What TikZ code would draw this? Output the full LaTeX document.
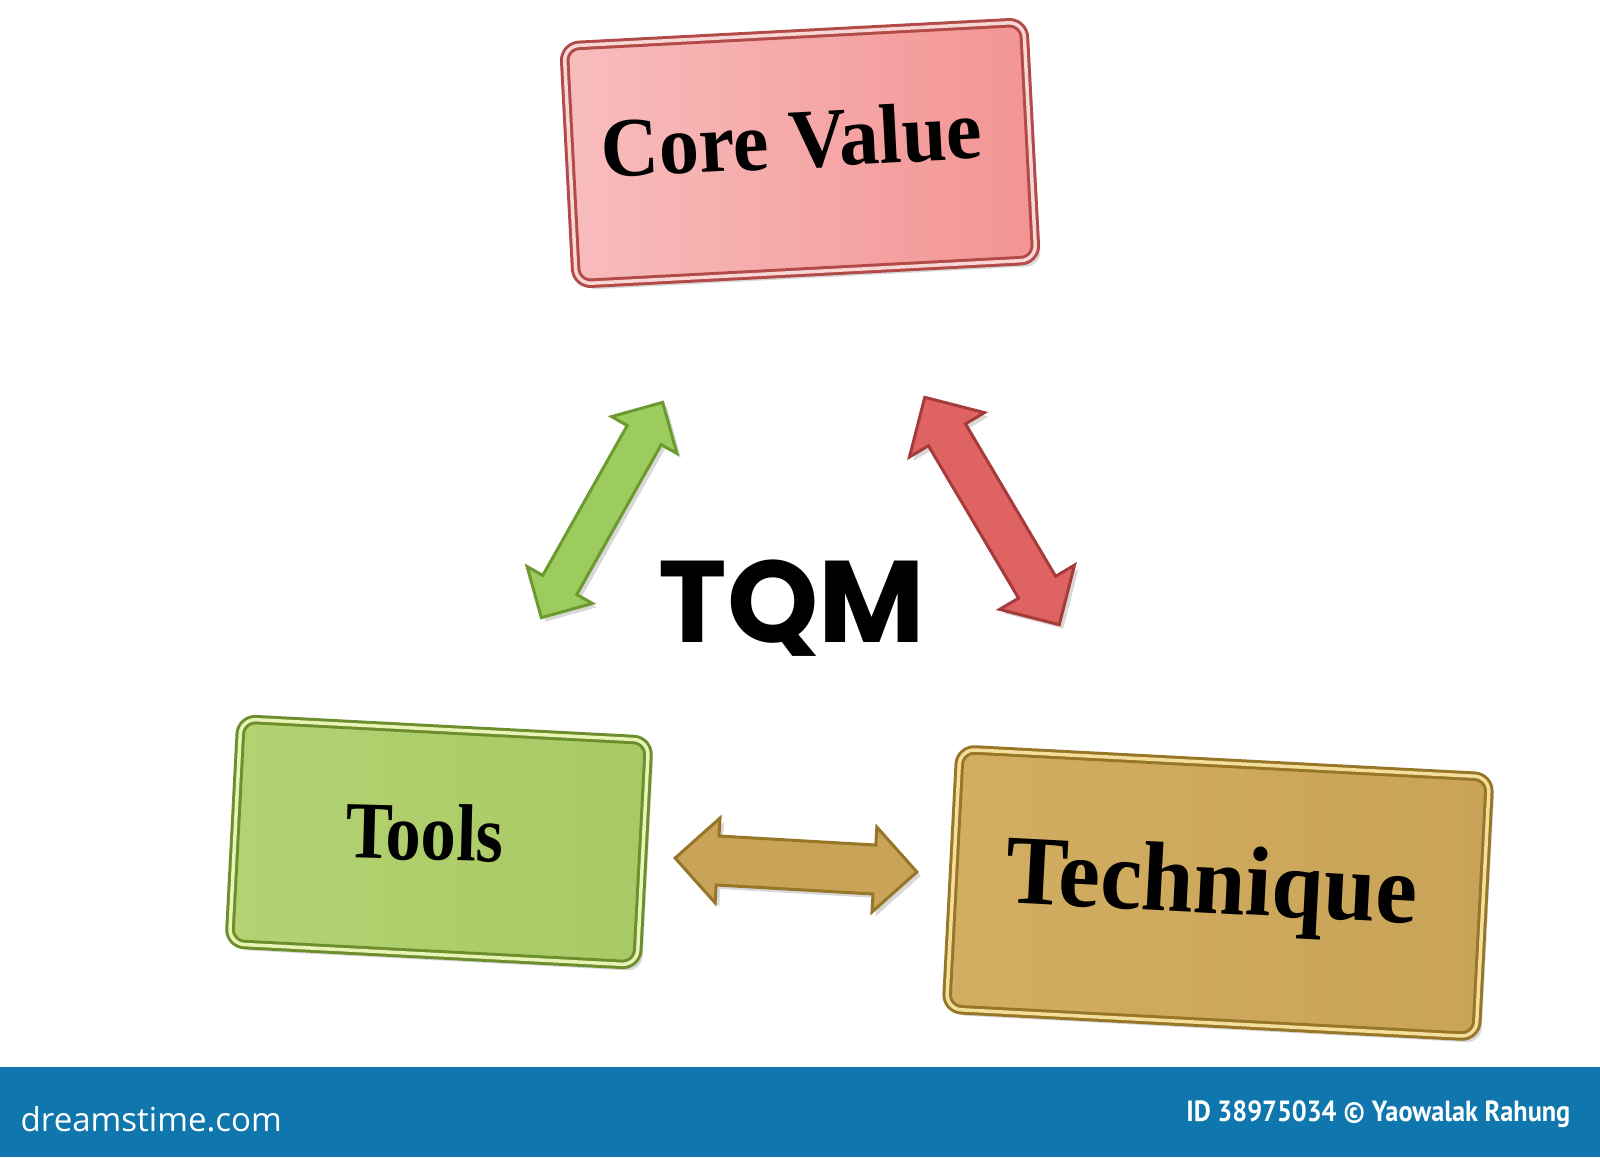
\documentclass[tikz,border=0pt]{standalone}
\usepackage{fontspec}
\setmainfont{Liberation Serif}
\newfontfamily\tqmfont{Poppins}
\newfontfamily\sitefont{Open Sans}
\newfontfamily\creditfont{PT Sans}
\usetikzlibrary{shapes.arrows,shadows,positioning}

\definecolor{cvlight}{HTML}{F8BDBD}
\definecolor{cvfill}{HTML}{F39494}
\definecolor{cvedge}{HTML}{B24A48}
\definecolor{cvhigh}{HTML}{F8D6D6}
\definecolor{tlfill}{HTML}{A8C965}
\definecolor{tllight}{HTML}{B4D272}
\definecolor{tledge}{HTML}{6D8E2D}
\definecolor{tlhigh}{HTML}{E8F3B6}
\definecolor{tqfill}{HTML}{C9A458}
\definecolor{tqlight}{HTML}{D2AE62}
\definecolor{tqedge}{HTML}{977628}
\definecolor{tqhigh}{HTML}{F3DE9C}
\definecolor{garrow}{HTML}{9DCC5E}
\definecolor{gedge}{HTML}{6C9A30}
\definecolor{rarrow}{HTML}{E06363}
\definecolor{redge}{HTML}{A63B3B}
\definecolor{banner}{HTML}{0F77AE}

\tikzset{
  plate/.style={draw, line width=0.3mm, double distance=0.35mm,
    rounded corners=1.5mm, inner sep=0pt,
    drop shadow={shadow xshift=0.5mm, shadow yshift=-0.6mm, opacity=0.3}},
  platetext/.style={anchor=base, inner sep=0pt},
  fatarrow/.style={double arrow, draw, line width=0.3mm, inner xsep=0pt,
    double arrow tip angle=90,
    drop shadow={shadow xshift=0.4mm, shadow yshift=-0.4mm, opacity=0.3}}
}

\begin{document}
\begin{tikzpicture}[x=0.01cm, y=-0.01cm]

\fill[white] (0,0) rectangle (1600,1157);
\useasboundingbox (0,0) rectangle (1600,1157);

% the three plates
\node[plate, draw=cvedge, double=cvhigh, left color=cvlight, right color=cvfill,
  minimum width=4.6cm, minimum height=2.38cm, rotate=3] (core) at (800,153) {};
\node[plate, draw=tledge, double=tlhigh, left color=tllight, right color=tlfill,
  minimum width=4.08cm, minimum height=2.25cm, rotate=-3] (tools) at (439,842) {};
\node[plate, draw=tqedge, double=tqhigh, left color=tqlight, right color=tqfill,
  minimum width=5.3cm, minimum height=2.6cm, rotate=-3] (tech) at (1218,893) {};

\node[platetext, rotate=3, font=\bfseries\fontsize{24}{24}\selectfont]
  (coretxt) at (793,168) {\scalebox{0.95}[1]{Core Value}};
\node[platetext, rotate=-1.5, font=\bfseries\fontsize{23}{23}\selectfont]
  (toolstxt) at (424,860) {\scalebox{0.87}[1]{Tools}};
\node[platetext, rotate=-3, font=\bfseries\fontsize{28}{28}\selectfont]
  (techtxt) at (1210,913) {\scalebox{0.95}[1]{Technique}};

\node[platetext, font=\tqmfont\bfseries\fontsize{33}{33}\selectfont]
  (tqm) at (792,642) {TQM};

% double arrows
\node[fatarrow, fill=garrow, draw=gedge, minimum height=2.47cm,
  inner ysep=0.18cm, double arrow head extend=0.18cm, rotate=60.6]
  (toolscore) at (602,510) {};
\node[fatarrow, fill=rarrow, draw=redge, minimum height=2.64cm,
  inner ysep=0.2cm, double arrow head extend=0.22cm, rotate=-59.4]
  (coretech) at (992,511) {};
\node[fatarrow, fill=tqfill, draw=tqedge, minimum height=2.42cm,
  inner ysep=0.23cm, double arrow head extend=0.18cm, rotate=-3.3]
  (toolstech) at (796,865) {};

% banner
\fill[banner] (0,1067) rectangle (1600,1157);
\node[anchor=base west, inner sep=0pt, text=white,
  font=\sitefont\fontsize{9.4}{9.4}\selectfont] (site) at (20,1131) {dreamstime.com};
\node[anchor=base east, inner sep=0pt, text=white,
  font=\creditfont\bfseries\fontsize{8.3}{8.3}\selectfont]
  (credit) at (1571,1121) {\scalebox{0.9}[1]{ID 38975034 © Yaowalak Rahung}};

\end{tikzpicture}
\end{document}
